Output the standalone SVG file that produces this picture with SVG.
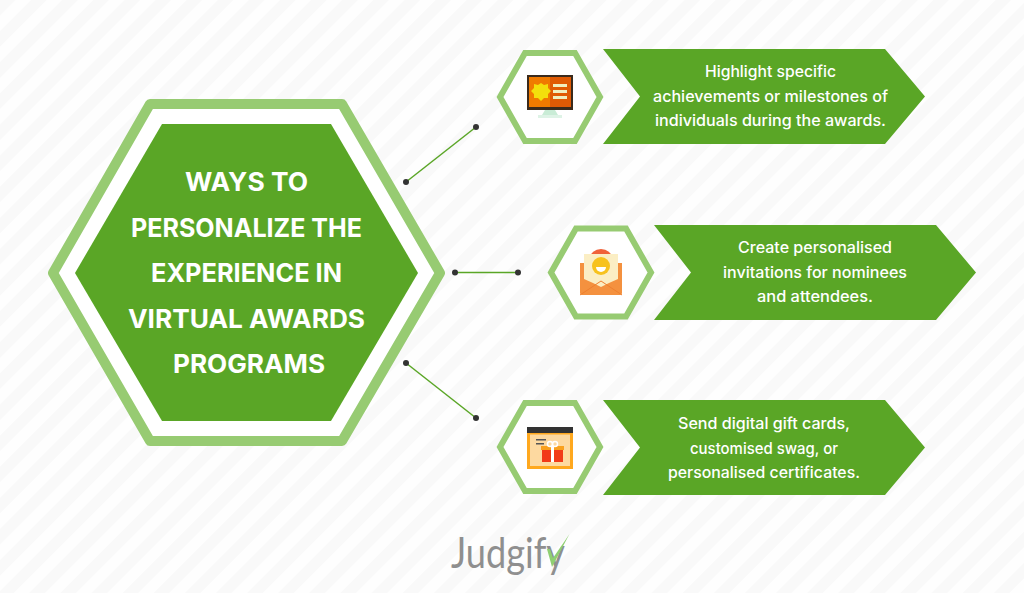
<svg xmlns="http://www.w3.org/2000/svg" width="1024" height="593" viewBox="0 0 1024 593">
<defs>
<pattern id="stripes" patternUnits="userSpaceOnUse" width="22" height="22" patternTransform="rotate(45)">
<rect width="22" height="22" fill="#fefefe"/><rect width="11" height="22" fill="#f9f9f9"/>
</pattern>
<polygon id="arrow" points="0,0 282,0 322,47.500 282,95 0,95 37,47.500"/>
<polygon id="ring" points="-50,0 -25,-44 25,-44 50,0 25,44 -25,44"/>
</defs>
<style>
.ring{fill:#ffffff;stroke:#97cb72;stroke-width:6}
.arrow{fill:#5aa626}
.body{font-family:"Inter","Open Sans","Liberation Sans",sans-serif;font-size:15.500px;font-weight:500;fill:#ffffff}
.title{font-family:"Inter","Open Sans","Liberation Sans",sans-serif;font-size:25.500px;font-weight:700;fill:#ffffff}
.line{stroke:#5aa626;stroke-width:1.500;fill:none}
.dot{fill:#333333}
</style>
<rect id="background" width="1024" height="593" fill="url(#stripes)"/>
<g id="connectors">
<line class="line" x1="476" y1="127" x2="406" y2="182"/><circle class="dot" cx="476" cy="127" r="3"/><circle class="dot" cx="406" cy="182" r="3"/>
<line class="line" x1="455" y1="272.500" x2="518" y2="272.500"/><circle class="dot" cx="455" cy="272.500" r="3"/><circle class="dot" cx="518" cy="272.500" r="3"/>
<line class="line" x1="406" y1="363" x2="476" y2="418"/><circle class="dot" cx="406" cy="363" r="3"/><circle class="dot" cx="476" cy="418" r="3"/>
</g>
<g id="main-node">
<polygon points="53,273 150,104 342,104 440,273 342,441 150,441" fill="#ffffff" stroke="#97cb72" stroke-width="10" stroke-linejoin="round"/>
<polygon points="75,273 162,124 331,124 418,273 331,421 162,421" fill="#5aa626"/>
<text class="title" x="185" y="191" textLength="123" lengthAdjust="spacingAndGlyphs">WAYS TO</text>
<text class="title" x="131" y="237" textLength="231" lengthAdjust="spacingAndGlyphs">PERSONALIZE THE</text>
<text class="title" x="151" y="282" textLength="191" lengthAdjust="spacingAndGlyphs">EXPERIENCE IN</text>
<text class="title" x="128" y="328" textLength="237" lengthAdjust="spacingAndGlyphs">VIRTUAL AWARDS</text>
<text class="title" x="173" y="373" textLength="152" lengthAdjust="spacingAndGlyphs">PROGRAMS</text>
</g>
<g id="node-highlight">
<use href="#ring" class="ring" x="550" y="97"/>
<use href="#arrow" class="arrow" x="603" y="49"/>
<rect x="527" y="75" width="46" height="35" fill="#3a2a1c"/>
<rect x="529" y="77" width="21" height="30" fill="#f07a00"/>
<rect x="550" y="77" width="21" height="30" fill="#e05a05"/>
<polygon points="541,83 544,85 548,84 548,88 551,91 548,94 548,98 544,98 541,101 538,98 534,98 534,94 531,91 534,88 534,84 538,85" fill="#f3df0c"/>
<rect x="553" y="84" width="14" height="3" fill="#f0eec0"/><rect x="553" y="90" width="14" height="3" fill="#f0eec0"/><rect x="553" y="96" width="14" height="3" fill="#f0eec0"/>
<polygon points="545,110 555,110 558,115 542,115" fill="#c9ecd6"/>
<rect x="538" y="115" width="24" height="3" fill="#def3e6"/>
<text class="body" x="705" y="77" textLength="131" lengthAdjust="spacingAndGlyphs">Highlight specific</text>
<text class="body" x="653" y="102" textLength="235" lengthAdjust="spacingAndGlyphs">achievements or milestones of</text>
<text class="body" x="655" y="126" textLength="231" lengthAdjust="spacingAndGlyphs">individuals during the awards.</text>
</g>
<g id="node-invitations">
<use href="#ring" class="ring" x="601" y="272.500"/>
<use href="#arrow" class="arrow" x="654" y="225"/>
<path d="M590,258 a11,9 0 0 1 22,0 z" fill="#f0623a"/>
<path d="M580,263 L622,263 L622,293 a2,2 0 0 1 -2,2 L582,295 a2,2 0 0 1 -2,-2 z" fill="#f4913f"/>
<polygon points="584,254 618,254 618,279 609,283 601,287 593,283 584,279" fill="#fbeec4"/>
<circle cx="601" cy="266" r="9" fill="#f7c21e"/>
<path d="M596,267 h10 a5,5 0 0 1 -10,0 z" fill="#ffffff"/>
<path d="M580,295 L601,281 L622,295" fill="none" stroke="#ee8030" stroke-width="1"/>
<text class="body" x="738" y="253" textLength="154" lengthAdjust="spacingAndGlyphs">Create personalised</text>
<text class="body" x="723" y="278" textLength="184" lengthAdjust="spacingAndGlyphs">invitations for nominees</text>
<text class="body" x="757" y="302" textLength="116" lengthAdjust="spacingAndGlyphs">and attendees.</text>
</g>
<g id="node-gifts">
<use href="#ring" class="ring" x="550" y="447"/>
<use href="#arrow" class="arrow" x="603" y="400"/>
<rect x="527" y="427" width="46" height="42" fill="#fdd9a0"/>
<rect x="528.500" y="433" width="43" height="34.500" fill="none" stroke="#ffa81e" stroke-width="3"/>
<rect x="527" y="427" width="46" height="6" fill="#333333"/>
<rect x="536" y="439" width="10" height="1.500" fill="#555555"/><rect x="536" y="443" width="8" height="1.500" fill="#555555"/>
<rect x="541" y="446" width="23" height="4" fill="#f9a01e"/>
<rect x="542" y="450" width="21" height="12" fill="#f23a18"/>
<rect x="551" y="446" width="3" height="16" fill="#ffffff"/>
<circle cx="550" cy="444" r="2.500" fill="none" stroke="#ffffff" stroke-width="1.500"/><circle cx="555" cy="444" r="2.500" fill="none" stroke="#ffffff" stroke-width="1.500"/>
<text class="body" x="678" y="429" textLength="172" lengthAdjust="spacingAndGlyphs">Send digital gift cards,</text>
<text class="body" x="690" y="454" textLength="148" lengthAdjust="spacingAndGlyphs">customised swag, or</text>
<text class="body" x="668" y="478" textLength="192" lengthAdjust="spacingAndGlyphs">personalised certificates.</text>
</g>
<g id="logo">
<text x="451" y="568" font-family="Lato,'Open Sans',sans-serif" font-size="42" font-weight="400" fill="#8f8f8f" textLength="114" lengthAdjust="spacingAndGlyphs">Judgify</text>
<path d="M547,549 L552,567 L569.500,534 L553,558 L550,549 Z" fill="#8fcf72"/>
</g>
</svg>
